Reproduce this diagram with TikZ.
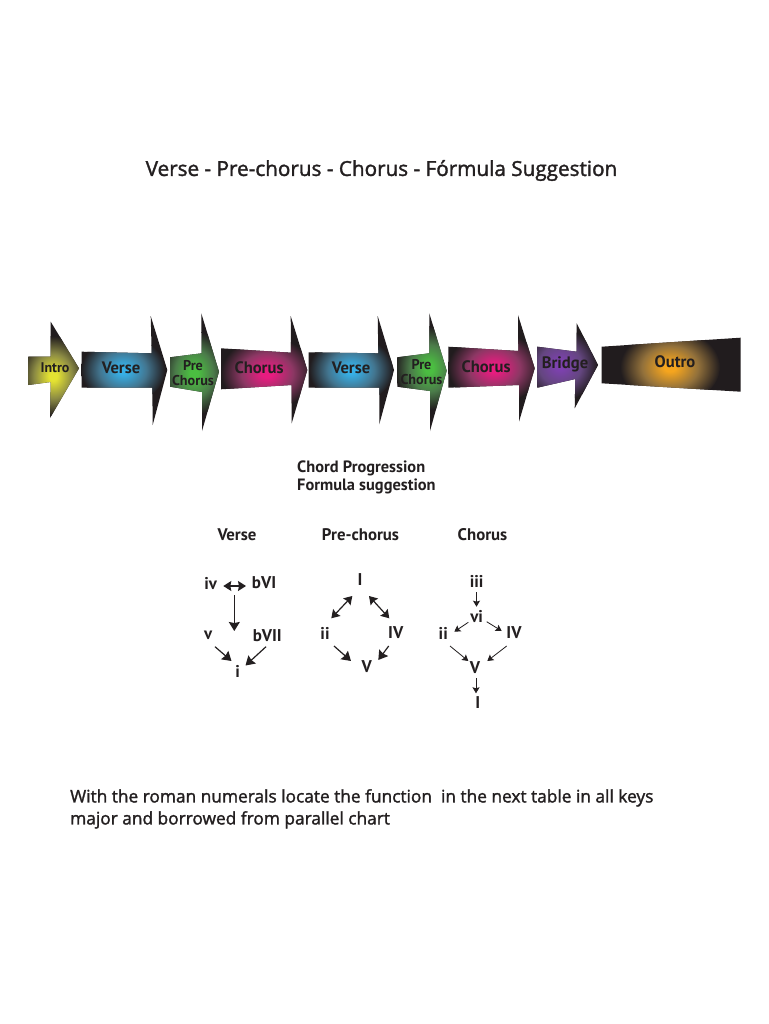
\documentclass[tikz,border=0pt]{standalone}
\usepackage{fontspec}
\setmainfont{Open Sans}
\newfontfamily\fatfont[FakeBold=1.6]{Open Sans}
\newfontfamily\labfont{PT Sans}
\usetikzlibrary{arrows.meta,calc}
\definecolor{darkout}{RGB}{33,28,30}
\definecolor{midgrey}{RGB}{75,75,80}
\definecolor{cyellow}{RGB}{228,226,50}
\definecolor{cblue}{RGB}{55,175,230}
\definecolor{cgreen}{RGB}{75,190,65}
\definecolor{cpink}{RGB}{232,28,128}
\definecolor{cpurple}{RGB}{125,65,175}
\definecolor{corange}{RGB}{245,165,30}
\definecolor{ink}{RGB}{35,31,32}
\colorlet{myellow}{cyellow!42!midgrey}
\colorlet{mblue}{cblue!42!midgrey}
\colorlet{mgreen}{cgreen!42!midgrey}
\colorlet{mpink}{cpink!42!midgrey}
\colorlet{mpurple}{cpurple!50!midgrey}
\colorlet{morange}{corange!42!midgrey}
\pgfdeclareradialshading{glowyellow}{\pgfpointorigin}{color(0bp)=(cyellow); color(3bp)=(cyellow); color(14bp)=(myellow); color(25bp)=(darkout); color(50bp)=(darkout)}
\pgfdeclareradialshading{glowblue}{\pgfpointorigin}{color(0bp)=(cblue); color(3bp)=(cblue); color(14bp)=(mblue); color(25bp)=(darkout); color(50bp)=(darkout)}
\pgfdeclareradialshading{glowgreen}{\pgfpointorigin}{color(0bp)=(cgreen); color(3bp)=(cgreen); color(14bp)=(mgreen); color(25bp)=(darkout); color(50bp)=(darkout)}
\pgfdeclareradialshading{glowpink}{\pgfpointorigin}{color(0bp)=(cpink); color(3bp)=(cpink); color(14bp)=(mpink); color(25bp)=(darkout); color(50bp)=(darkout)}
\pgfdeclareradialshading{glowpurple}{\pgfpointorigin}{color(0bp)=(cpurple); color(3bp)=(cpurple); color(14bp)=(mpurple); color(25bp)=(darkout); color(50bp)=(darkout)}
\pgfdeclareradialshading{gloworange}{\pgfpointorigin}{color(0bp)=(corange); color(3bp)=(corange); color(14bp)=(morange); color(25bp)=(darkout); color(50bp)=(darkout)}
% polygon, shading name, glow centre, radii
\newcommand{\songarrow}[4]{%
  \begin{scope}
    \clip #1 -- cycle;
    \fill[darkout] (0,0) rectangle (768,1024);
    \shade[shading=#2] #3 ellipse [x radius=#4];
  \end{scope}}
\tikzset{
  armlabel/.style={font=\labfont\bfseries\fontsize{16.6}{16.6}\selectfont,text=ink,inner sep=0pt,align=center},
  smalllabel/.style={font=\labfont\bfseries\fontsize{14.2}{14.5}\selectfont,text=ink,inner sep=0pt,align=center},
  head/.style={font=\labfont\bfseries\fontsize{16.8}{16.8}\selectfont,text=ink,inner sep=0pt},
  chord/.style={font=\labfont\bfseries\fontsize{17}{17}\selectfont,text=ink,inner sep=0pt},
  heavy/.style={draw=ink,line width=1.2pt,-{Stealth[length=9pt,width=11pt,inset=1pt]}},
  heavyboth/.style={draw=ink,line width=1.2pt,{Stealth[length=8pt,width=10pt,inset=1pt]}-{Stealth[length=8pt,width=10pt,inset=1pt]}},
  light/.style={draw=ink,line width=.8pt,-{Stealth[length=6pt,width=7pt,inset=1pt]}},
  bodytext/.style={font=\fatfont\fontsize{17.3}{22}\selectfont,text=ink,inner sep=0pt,align=left,anchor=north west}
}
\begin{document}
\begin{tikzpicture}[x=1pt,y=-1pt]
\useasboundingbox (0,0) rectangle (768,1024);
\fill[white] (0,0) rectangle (768,1024);

\node[font=\fatfont\fontsize{20.7}{24}\selectfont,text=ink,inner sep=0pt] (title) at (381.5,170.5) {Verse - Pre-chorus - Chorus - Fórmula Suggestion};

\songarrow{(28.3,356.7) -- (50.7,356.7) -- (50.7,321.7) -- (79,368.3) -- (50,418) -- (50.7,382) -- (28.3,385)}{glowyellow}{(53,376)}{34,y radius=40}
\songarrow{(81.7,351.7) -- (151.7,353.3) -- (150.7,316) -- (167.3,370) -- (152.7,425) -- (152.3,387.7) -- (81.7,387.7)}{glowblue}{(123,370)}{42,y radius=34}
\songarrow{(170,357.3) -- (201.7,353.3) -- (201.3,313.3) -- (219,371.7) -- (202,431) -- (202,392) -- (170,386.7)}{glowgreen}{(194,373)}{34,y radius=42}
\songarrow{(221,348.3) -- (291,352.7) -- (290.7,316) -- (307.3,370) -- (291.7,423.3) -- (291.7,385) -- (221,389.3)}{glowpink}{(267,373)}{46,y radius=36}
\songarrow{(308.7,352.3) -- (378.3,353.3) -- (377.7,316) -- (394,370) -- (379.3,424.3) -- (379.3,387.7) -- (308.7,387.7)}{glowblue}{(351,370)}{42,y radius=34}
\songarrow{(397.3,357.3) -- (429.3,353.3) -- (429.3,313.3) -- (446.7,370.7) -- (430,431) -- (430,391) -- (397.3,386.7)}{glowgreen}{(429,368)}{34,y radius=42}
\songarrow{(448.3,346.7) -- (518.3,351) -- (518,315) -- (534.7,368.3) -- (519,421.7) -- (519,385) -- (448.3,387.7)}{glowpink}{(494,368)}{46,y radius=36}
\songarrow{(537.3,346.7) -- (576.7,351.7) -- (576.7,323.3) -- (598,365) -- (574.7,408.3) -- (575.3,379) -- (537.3,387.7)}{glowpurple}{(560,365)}{38,y radius=36}
\songarrow{(601.7,346.7) -- (740.7,337.7) -- (740.7,391.7) -- (601.7,383.3)}{gloworange}{(670,367)}{50,y radius=38}

\node[armlabel,font=\labfont\bfseries\fontsize{14}{14}\selectfont] (intro) at (55,368) {Intro};
\node[armlabel] (verseA) at (121,368) {Verse};
\node[smalllabel] (preA) at (193,373) {Pre\\Chorus};
\node[armlabel] (chorusA) at (259,368) {Chorus};
\node[armlabel] (verseB) at (351,368) {Verse};
\node[smalllabel] (preB) at (421.5,372) {Pre\\Chorus};
\node[armlabel] (chorusB) at (486,367) {Chorus};
\node[armlabel] (bridge) at (565,364.5) {Bridge};
\node[armlabel] (outro) at (675,362) {Outro};

\node[font=\labfont\bfseries\fontsize{16.4}{18}\selectfont,text=ink,inner sep=0pt,align=left,anchor=north west] (formula) at (297,461) {Chord Progression\\Formula suggestion};

\node[head] (hverse) at (237,534.5) {Verse};
\node[head] (hpre) at (360.5,534.5) {Pre-chorus};
\node[head] (hchorus) at (482.5,534.5) {Chorus};

% Verse
\node[chord] (viv) at (210.7,583) {iv};
\node[chord] (vbVI) at (264,583) {bVI};
\node[chord] (vv) at (208.3,635.7) {v};
\node[chord] (vbVII) at (267.3,635.7) {bVII};
\node[chord] (vi) at (237.7,671.7) {i};
\draw[heavyboth] ($(viv)+(12.6,3)$) -- ($(vbVI)+(-18,3)$);
\draw[heavy] ($(viv)+(23.6,12)$) -- ($(vv)+(26,-4.7)$);
\draw[heavy] ($(vv)+(6.7,11)$) -- ($(vi)+(-6.2,-10.7)$);
\draw[heavy] ($(vbVII)+(-1.3,11)$) -- ($(vi)+(7.8,-6.2)$);

% Pre-chorus
\node[chord] (pI) at (360,580) {I};
\node[chord] (pii) at (325,633) {ii};
\node[chord] (pIV) at (395.7,632.7) {IV};
\node[chord] (pV) at (366.7,666.7) {V};
\draw[heavyboth] ($(pI)+(-7.7,16)$) -- ($(pii)+(6.3,-14.7)$);
\draw[heavyboth] ($(pI)+(9,16)$) -- ($(pIV)+(-6.4,-14.4)$);
\draw[heavy] ($(pii)+(9,13)$) -- ($(pV)+(-15.7,-5.7)$);
\draw[heavy] ($(pIV)+(-7,13.3)$) -- ($(pV)+(11.6,-6.7)$);

% Chorus
\node[chord] (ciii) at (476.7,581) {iii};
\node[chord] (cvi) at (476.7,616.7) {vi};
\node[chord] (cii) at (443.3,633.3) {ii};
\node[chord] (cIV) at (514,632.7) {IV};
\node[chord] (cV) at (475,667.7) {V};
\node[chord] (cI) at (477.7,702.7) {I};
\draw[light] ($(ciii)+(-.2,11.3)$) -- ($(cvi)+(-.2,-10)$);
\draw[light] ($(cvi)+(-8.4,5.6)$) -- ($(cii)+(11,-1.6)$);
\draw[light] ($(cvi)+(10,5)$) -- ($(cIV)+(-12.3,-1.7)$);
\draw[light] ($(cii)+(6.7,12.7)$) -- ($(cV)+(-6.7,-6.7)$);
\draw[light] ($(cIV)+(-7.3,13.3)$) -- ($(cV)+(12.3,-6.7)$);
\draw[light] ($(cV)+(1,10.6)$) -- ($(cI)+(-1.7,-9.4)$);

\node[bodytext] (note) at (70,789) {With the roman numerals locate the function\ \ in the next table in all keys\\major and borrowed from parallel chart};
\end{tikzpicture}
\end{document}
